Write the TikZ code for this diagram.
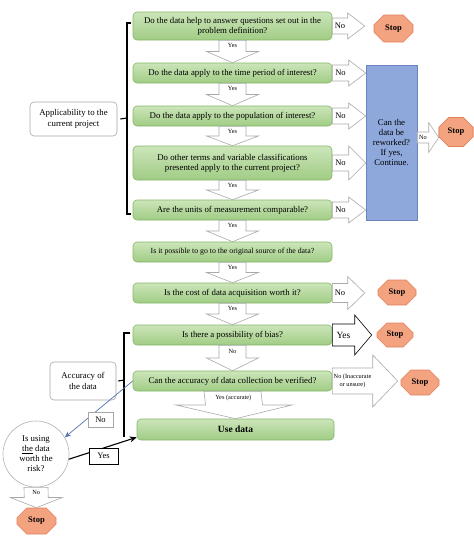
\documentclass[tikz,border=0pt]{standalone}
\usepackage{fontspec}
\setmainfont{Liberation Serif}
\usetikzlibrary{calc,shapes.misc,arrows.meta}
\definecolor{gtop}{RGB}{204,229,186}
\definecolor{gbot}{RGB}{160,204,132}
\definecolor{gbd}{RGB}{132,182,104}
\definecolor{stopfill}{RGB}{244,163,128}
\definecolor{stopbd}{RGB}{226,128,96}
\definecolor{bluefill}{RGB}{142,168,220}
\definecolor{bluebd}{RGB}{108,132,190}
\definecolor{arrgray}{RGB}{170,170,170}
\definecolor{lnblue}{RGB}{80,115,175}
\tikzset{
  qbox/.style={draw=gbd, line width=0.6pt, rounded corners=4pt, top color=gtop, bottom color=gbot,
    minimum width=199pt, align=center, font=\fontsize{8.8}{10}\selectfont, inner sep=1pt},
  stopbox/.style={chamfered rectangle, chamfered rectangle xsep=6pt, chamfered rectangle ysep=6pt,
    draw=stopbd, fill=stopfill, line width=0.6pt, inner sep=0pt, font=\bfseries\fontsize{8.5}{9}\selectfont},
  bluebox/.style={draw=bluebd, fill=bluefill, line width=0.6pt, align=center, inner sep=0pt,
    font=\fontsize{8.8}{10}\selectfont},
  notebox/.style={draw=gray!70, rounded corners=4pt, fill=white, align=center, inner sep=1pt,
    font=\fontsize{8.8}{11}\selectfont, line width=0.6pt},
  blockarr/.style={draw=arrgray, fill=white, line width=0.6pt, line join=miter},
  lbl/.style={font=\fontsize{6.3}{7.5}\selectfont, inner sep=0pt, align=center},
  rlbl/.style={font=\fontsize{8.5}{9}\selectfont, inner sep=0pt, align=center},
  brk/.style={draw=black, line width=1.1pt},
  lblbox/.style={draw=#1, fill=white, font=\fontsize{8.5}{9}\selectfont, inner sep=0pt, minimum height=15pt},
}
% down block arrow: from, to, label, half shaft, half head, style
\newcommand\dnarrow[6]{%
  \coordinate (m) at ($(#1.south)!0.5!(#2.north)$);
  \draw[blockarr,#6] ($(#1.south)+(-#4,0)$) -- ($(#1.south)+(#4,0)$) -- ($(m)+(#4,0)$) -- ($(m)+(#5,0)$)
     -- (#2.north) -- ($(m)+(-#5,0)$) -- ($(m)+(-#4,0)$) -- cycle;
  \node[lbl] at ($(#1.south)!0.5!(m)$) {#3};
}
% right block arrow: start, tip, label, half shaft, half head, head length, style, label style
\newcommand\rtarrow[8]{%
  \coordinate (s) at (#1);
  \coordinate (t) at (#1 -| #2);
  \coordinate (h) at ($(t)+(-#6,0)$);
  \draw[blockarr,#7] ($(s)+(0,-#4)$) -- ($(h)+(0,-#4)$) -- ($(h)+(0,-#5)$) -- (t)
     -- ($(h)+(0,#5)$) -- ($(h)+(0,#4)$) -- ($(s)+(0,#4)$) -- cycle;
  \node[#8] at ($(s)!0.5!(h)$) {#3};
}
\begin{document}
\begin{tikzpicture}[x=1pt,y=-1pt]
\useasboundingbox (0,0) rectangle (474,536);
% question boxes
\node[qbox, minimum height=28pt] (b1) at (232.5,26) {Do the data help to answer questions set out in the\\problem definition?};
\node[qbox, minimum height=20pt] (b2) at (232.5,73) {Do the data apply to the time period of interest?};
\node[qbox, minimum height=20pt] (b3) at (232.5,116) {Do the data apply to the population of interest?};
\node[qbox, minimum height=34pt] (b4) at (232.5,163) {Do other terms and variable classifications\\presented apply to the current project?};
\node[qbox, minimum height=20pt] (b5) at (232.5,210) {Are the units of measurement comparable?};
\node[qbox, minimum height=20pt, font=\fontsize{7.8}{9}\selectfont] (b6) at (232.5,252) {Is it possible to go to the original source of the data?};
\node[qbox, minimum height=20pt] (b7) at (232.5,293) {Is the cost of data acquisition worth it?};
\node[qbox, minimum height=20pt] (b8) at (232.5,335) {Is there a possibility of bias?};
\node[qbox, minimum height=20pt] (b9) at (232.5,381) {Can the accuracy of data collection be verified?};
\node[qbox, minimum width=197pt, minimum height=21pt, font=\bfseries\fontsize{9.5}{10}\selectfont] (use) at (235.5,429.5) {Use data};
% rework box
\node[bluebox, minimum width=51pt, minimum height=155pt] (blue) at (391.5,142.5) {Can the\\data be\\reworked?\\If yes,\\Continue.};
% stops
\node[stopbox, minimum width=39pt, minimum height=27pt] (s1) at (393.5,28.5) {Stop};
\node[stopbox, minimum width=34pt, minimum height=29pt] (s2) at (456,132) {Stop};
\node[stopbox, minimum width=38pt, minimum height=25pt] (s3) at (397,292.5) {Stop};
\node[stopbox, minimum width=36pt, minimum height=24pt] (s4) at (395,335) {Stop};
\node[stopbox, minimum width=38pt, minimum height=25pt] (s5) at (420,382.5) {Stop};
% side notes
\node[notebox, minimum width=87pt, minimum height=34pt] (app) at (73.5,119) {Applicability to the\\current project};
\node[notebox, minimum width=66pt, minimum height=38pt] (acc) at (83,381) {Accuracy of\\the data};
\node[circle, draw=gray!60, fill=white, line width=0.6pt, minimum size=66pt, inner sep=0pt, align=center,
  font=\fontsize{8.8}{10}\selectfont] (circ) at (36,454) {Is using\\\underline{the} data\\worth the\\risk?};
\node[stopbox, minimum width=39pt, minimum height=26pt] (s6) at (36.5,521) {Stop};
% down arrows
\dnarrow{b1}{b2}{Yes}{13.5}{26}{}
\dnarrow{b2}{b3}{Yes}{13.5}{26}{}
\dnarrow{b3}{b4}{Yes}{13.5}{26}{}
\dnarrow{b4}{b5}{Yes}{13.5}{26}{}
\dnarrow{b5}{b6}{Yes}{13.5}{26}{}
\dnarrow{b6}{b7}{Yes}{13.5}{26}{}
\dnarrow{b7}{b8}{Yes}{13.5}{26}{}
\dnarrow{b8}{b9}{No}{13.5}{26}{}
\dnarrow{b9}{use}{Yes (accurate)}{28.5}{58}{}
\dnarrow{circ}{s6}{No}{12}{26}{}
% right arrows
\coordinate (t1) at ($(s1.west)+(-9,0)$);
\coordinate (t7) at ($(s3.west)+(-13,0)$);
\coordinate (t8) at ($(s4.west)+(-5,0)$);
\coordinate (t9) at ($(s5.west)+(-3,0)$);
\rtarrow{b1.east}{t1}{No}{8}{13}{17}{}{rlbl}
\rtarrow{b2.east}{blue.west}{No}{8}{13}{17}{}{rlbl}
\rtarrow{b3.east}{blue.west}{No}{8}{13}{17}{}{rlbl}
\rtarrow{b4.east}{blue.west}{No}{8}{17}{17}{}{rlbl}
\rtarrow{b5.east}{blue.west}{No}{8}{13}{17}{}{rlbl}
\rtarrow{b7.east}{t7}{No}{9.5}{16.5}{17}{}{rlbl}
\rtarrow{b8.east}{t8}{Yes}{11}{20}{17}{draw=black}{font=\fontsize{9.5}{10}\selectfont, inner sep=0pt}
\rtarrow{b9.east}{t9}{No (Inaccurate\\or unsure)}{13}{26}{25}{}{lbl}
\coordinate (bst) at ($(blue.east)+(0,-5)$);
\rtarrow{bst}{s2.west}{No}{5.5}{15}{10}{}{lbl}
% redraw stop on top
\node[stopbox, minimum width=34pt, minimum height=29pt] at (s2) {Stop};
% brackets
\draw[brk] (131,23) -- (127,23) -- (127,214) -- (131,214);
\draw[brk] (app.east) ++(3,0) -- (127,118);
\draw[brk] (130,333) -- (124,333) -- (124,437);
\draw[brk] (acc.east) ++(2,0) -- (124,380);
% risk connectors
\draw[draw=lnblue, line width=0.7pt, -{Stealth[length=6pt,width=5pt]}] (b9.west) -- (circ.30);
\node[lblbox=gray!70, minimum width=25pt] (nolbl) at (100.5,419.5) {No};
\draw[draw=black, line width=1.1pt, -{Stealth[length=7pt,width=6pt]}] (circ.-9) -- ($(use.south west)+(0,-3)$);
\node[lblbox=black, minimum width=29pt, minimum height=16pt] (yeslbl) at (103.5,456) {Yes};
\end{tikzpicture}
\end{document}
